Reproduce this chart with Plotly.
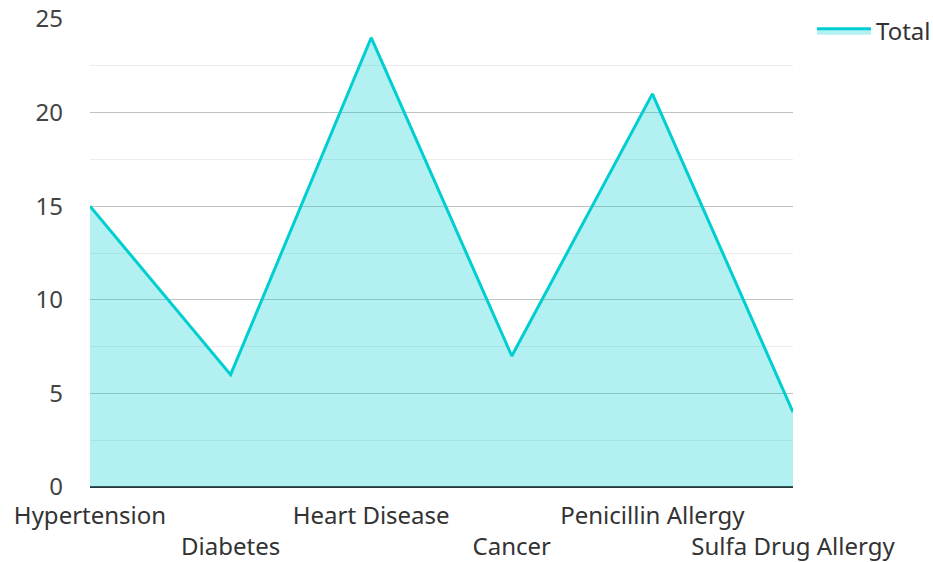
import plotly.graph_objects as go

categories = ["Hypertension", "Diabetes", "Heart Disease", "Cancer", "Penicillin Allergy", "Sulfa Drug Allergy"]
totals = [15, 6, 24, 7, 21, 4]
y_ticks = [0, 5, 10, 15, 20, 25]
series_name = "Total"

tick_text = [c if i % 2 == 0 else "<br>" + c for i, c in enumerate(categories)]

fig = go.Figure()
fig.add_trace(go.Scatter(
    x=list(range(len(categories))), y=totals, name=series_name,
    mode="lines", fill="tozeroy",
    line=dict(color="#00CED1", width=3),
    fillcolor="rgba(0,206,209,0.3)",
))

fig.update_layout(
    width=933, height=562,
    margin=dict(l=90, r=140, t=19, b=75, autoexpand=False),
    paper_bgcolor="white", plot_bgcolor="white",
    font=dict(family="Noto Sans", size=24, color="#333333"),
    showlegend=True,
    legend=dict(x=1.027, y=1.022, xanchor="left", yanchor="top",
                font=dict(size=24, color="#333333"), itemwidth=54,
                bgcolor="rgba(0,0,0,0)"),
    xaxis=dict(
        range=[0, len(categories) - 1], automargin=False,
        tickmode="array", tickvals=list(range(len(categories))), ticktext=tick_text,
        showgrid=False, zeroline=False, showline=False, ticks="",
        tickfont=dict(size=24, color="#333333"), tickangle=0,
        ticklabelstandoff=12,
    ),
    yaxis=dict(
        range=[0, 25], automargin=False,
        tickmode="array", tickvals=y_ticks,
        showgrid=True, gridcolor="rgba(150,150,150,0.5)", gridwidth=1,
        minor=dict(dtick=2.5, tick0=0, showgrid=True, gridcolor="rgba(200,200,200,0.35)", gridwidth=1),
        zeroline=True, zerolinecolor="#333333", zerolinewidth=2,
        showline=False, ticks="", ticklabelstandoff=26,
        tickfont=dict(size=24, color="#444444"),
    ),
)

fig.write_html("out.html", config={"displayModeBar": False},
               post_script="document.body.style.margin='0';")
